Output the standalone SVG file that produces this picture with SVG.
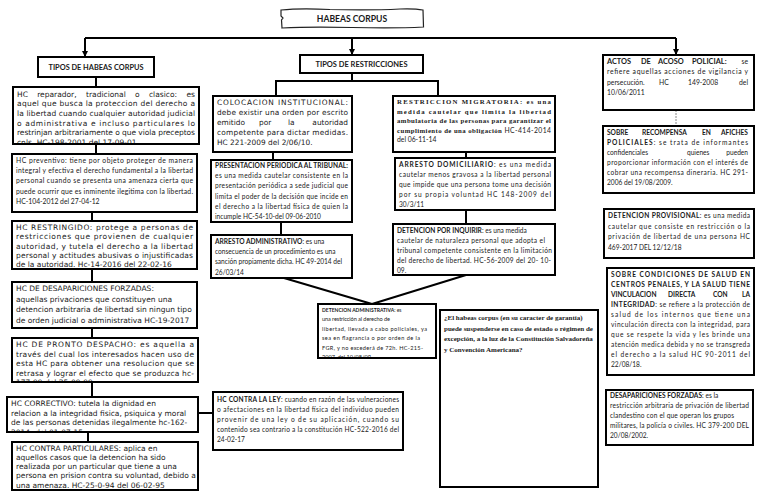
<svg xmlns="http://www.w3.org/2000/svg" width="768" height="497" viewBox="0 0 768 497">
<style>
.box{fill:#fff;stroke:#000;stroke-width:2}
.c{fill:none;stroke:#000;stroke-width:2}
.thin{fill:none;stroke:#888;stroke-width:1;stroke-dasharray:2 1}
text{fill:#1a1a1a}
.f1{font-family:"DejaVu Sans",Verdana,sans-serif;font-size:7.5px}
.f2{font-family:Lato,"Liberation Sans",sans-serif;font-size:6.6px}
.f3{font-family:"Liberation Serif","Times New Roman",serif;font-weight:bold;font-size:6.8px}
.f4{font-family:Lato,"Liberation Sans",sans-serif;font-size:5.6px}
.hd{font-family:Lato,"Liberation Sans",sans-serif;font-weight:bold;font-size:7.6px;text-anchor:middle}
.b{font-weight:bold}
.e{text-anchor:end}
</style>
<defs>
<marker id="ah" viewBox="0 0 10 10" refX="10" refY="5" markerWidth="6" markerHeight="6" markerUnits="userSpaceOnUse" orient="auto"><path d="M0,0 L10,5 L0,10 z" fill="#000"/></marker>
<clipPath id="cp2"><rect x="14" y="88" width="184" height="55"/></clipPath>
<clipPath id="cp5"><rect x="13" y="283" width="183" height="44"/></clipPath>
<clipPath id="cp6"><rect x="13" y="339" width="184" height="42"/></clipPath>
<clipPath id="cp7"><rect x="8" y="398" width="189" height="33"/></clipPath>
<clipPath id="cpda"><rect x="319" y="305" width="116" height="52"/></clipPath>
</defs>

<g id="connectors">
<path class="c" d="M85,38 H676"/>
<path class="c" d="M85,38 V57" marker-end="url(#ah)"/>
<path class="c" d="M352,38 V55" marker-end="url(#ah)"/>
<path class="c" d="M676,38 V55" marker-end="url(#ah)"/>
<path class="c" d="M96,77 V87 M96,144 V154 M92,212 V221 M92,269 V282 M92,328 V338 M92,382 V397 M88,432 V442"/>
<path class="c" d="M198,413 H213"/>
<path class="c" d="M352,73 V81 M276,96 V81 H438 V96"/>
<path class="c" d="M273,152 V160 M281,222 V235"/>
<path class="c" d="M284,278 L372,304 M466,275 L372,304"/>
<path class="c" d="M466,152 V158 M466,210 V224"/>
<path class="thin" d="M676,110 V126"/>
</g>

<g id="habeas-corpus">
<path d="M281,10 Q300,8 330,9.5 Q370,10.5 400,9 Q415,8.5 423,10 L423.5,27 Q395,28.5 352,27.5 Q310,26.5 282,28 L281.5,20 L283,18 L281,16 Z" fill="#fff" stroke="#222" stroke-width="1.2"/>
<text class="hd" x="352" y="22" style="font-size:8.6px">HABEAS CORPUS</text>
</g>

<g id="tipos-habeas">
<rect class="box" x="38" y="57" width="116" height="20"/>
<text class="hd" x="96" y="70" textLength="95" lengthAdjust="spacingAndGlyphs">TIPOS DE HABEAS CORPUS</text>
</g>

<g id="hc-reparador">
<rect class="box" x="13" y="87" width="186" height="57"/>
<g clip-path="url(#cp2)" class="f1">
<text y="96.5"><tspan x="17">HC</tspan><tspan x="37.2">reparador,</tspan><tspan x="86.1">tradicional</tspan><tspan x="135.1">o</tspan><tspan x="149">clasico:</tspan></text>
<text x="195" y="96.5" class="e">es</text>
<text x="17" y="106.2" textLength="178">aquel que busca la proteccion del derecho a</text>
<text x="17" y="115.9" textLength="178">la libertad cuando cualquier autoridad judicial</text>
<text x="17" y="125.6" textLength="178">o administrativa e incluso particulares lo</text>
<text x="17" y="135.3" textLength="178">restrinjan arbitrariamente o que viola preceptos</text>
<text x="17" y="145">cnls. HC-198-2001 del 17-09-01</text>
</g>
</g>

<g id="hc-preventivo">
<rect class="box" x="12" y="154" width="185" height="58"/>
<g class="f2" style="font-size:6.8px">
<text x="16" y="163" textLength="177">HC preventivo: tiene por objeto proteger de manera</text>
<text x="16" y="173.2" textLength="177">integral y efectiva el derecho fundamental a la libertad</text>
<text x="16" y="183.4" textLength="177">personal cuando se presenta una amenaza cierta que</text>
<text x="16" y="193.6" textLength="177">puede ocurrir que es inminente ilegitima con la libertad.</text>
<text x="16" y="203.8">HC-104-2012 del 27-04-12</text>
</g>
</g>

<g id="hc-restringido">
<rect class="box" x="12" y="221" width="185" height="48"/>
<g class="f1">
<text x="16" y="229.5" textLength="177">HC RESTRINGIDO: protege a personas de</text>
<text x="16" y="239" textLength="177">restricciones que provienen de cualquier</text>
<text x="16" y="248.5" textLength="177">autoridad, y tutela el derecho a la libertad</text>
<text x="16" y="258" textLength="177">personal y actitudes abusivas o injustificadas</text>
<text x="16" y="267">de la autoridad. Hc-14-2016 del 22-02-16</text>
</g>
</g>

<g id="hc-desapariciones">
<rect class="box" x="12" y="282" width="185" height="46"/>
<g clip-path="url(#cp5)" class="f1">
<text x="16" y="291">HC DE DESAPARICIONES FORZADAS:</text>
<text x="16" y="301.5">aquellas privaciones que constituyen una</text>
<text x="16" y="312">detencion arbitraria de libertad sin ningun tipo</text>
<text x="16" y="322.5">de orden judicial o administrativa HC-19-2017</text>
<text x="16" y="333">del 13-12-17</text>
</g>
</g>

<g id="hc-pronto-despacho">
<rect class="box" x="12" y="338" width="186" height="44"/>
<g clip-path="url(#cp6)" class="f1">
<text x="16" y="347" textLength="178">HC DE PRONTO DESPACHO: es aquella a</text>
<text x="16" y="356.5" textLength="178">través del cual los interesados hacen uso de</text>
<text x="16" y="366" textLength="178">esta HC para obtener una resolucion que se</text>
<text x="16" y="375.5" textLength="178">retrasa y lograr el efecto que se produzca hc-</text>
<text x="16" y="385">177-99 del 25-09-99</text>
</g>
</g>

<g id="hc-correctivo">
<rect class="box" x="7" y="397" width="191" height="35"/>
<g clip-path="url(#cp7)" class="f1">
<text x="11" y="406">HC CORRECTIVO: tutela la dignidad en</text>
<text x="11" y="415.5">relacion a la integridad fisica, psiquica y moral</text>
<text x="11" y="425">de las personas detenidas ilegalmente hc-162-</text>
<text x="11" y="434.5">2014- del 01-07-15</text>
</g>
</g>

<g id="hc-particulares">
<rect class="box" x="12" y="442" width="186" height="48"/>
<g class="f1">
<text x="16" y="450.5">HC CONTRA PARTICULARES: aplica en</text>
<text x="16" y="459.8">aquellos casos que la detencion ha sido</text>
<text x="16" y="469.1">realizada por un particular que tiene a una</text>
<text x="16" y="478.4">persona en prision contra su voluntad, debido a</text>
<text x="16" y="487.7">una amenaza. HC-25-0-94 del 06-02-95</text>
</g>
</g>

<g id="tipos-restricciones">
<rect class="box" x="300" y="55" width="123" height="18"/>
<text class="hd" x="361.5" y="67" textLength="92" lengthAdjust="spacingAndGlyphs">TIPOS DE RESTRICCIONES</text>
</g>

<g id="colocacion">
<rect class="box" x="213" y="96" width="139" height="56"/>
<g class="f1" style="font-size:7.4px">
<text x="217" y="105" textLength="131">COLOCACION INSTITUCIONAL:</text>
<text x="217" y="115" textLength="131">debe existir una orden por escrito</text>
<text y="125"><tspan x="217">emitido</tspan><tspan x="259">por</tspan><tspan x="288">la</tspan></text>
<text x="348" y="125" class="e">autoridad</text>
<text x="217" y="135" textLength="131">competente para dictar medidas.</text>
<text x="217" y="145">HC 221-2009 del 2/06/10.</text>
</g>
</g>

<g id="presentacion">
<rect class="box" x="211" y="160" width="141" height="62"/>
<g class="f2">
<text x="215" y="168" textLength="133" class="b">PRESENTACION PERIODICA AL TRIBUNAL:</text>
<text x="215" y="178.2" textLength="133">es una medida cautelar consistente en la</text>
<text x="215" y="188.4" textLength="133">presentación periódica a sede judicial que</text>
<text x="215" y="198.6" textLength="133">limita el poder de la decisión que incide en</text>
<text x="215" y="208.8" textLength="133">el derecho a la libertad física de quien la</text>
<text x="215" y="219">incumple HC-54-10-del 09-06-2010</text>
</g>
</g>

<g id="arresto-administrativo">
<rect class="box" x="211" y="235" width="141" height="43"/>
<g class="f2">
<text x="215" y="244"><tspan class="b">ARRESTO ADMINISTRATIVO</tspan>: es una</text>
<text x="215" y="254.2">consecuencia de un procedimiento es una</text>
<text x="215" y="264.4" textLength="127">sanción propiamente dicha. HC 49-2014 del</text>
<text x="215" y="274.6">26/03/14</text>
</g>
</g>

<g id="restriccion-migratoria">
<rect class="box" x="393" y="96" width="162" height="56"/>
<g class="f3">
<text x="397" y="104" textLength="154">RESTRICCION MIGRATORIA: es una</text>
<text x="397" y="113.5" textLength="154">medida cautelar que limita la libertad</text>
<text x="397" y="123" textLength="154">ambulatoria de las personas para garantizar el</text>
<text x="397" y="132.5" textLength="154">cumplimiento de una obligación <tspan style="font-family:Lato,'Liberation Sans',sans-serif;font-weight:normal">HC-414-2014</tspan></text>
<text x="397" y="142" style="font-family:Lato,'Liberation Sans',sans-serif;font-weight:normal">del 06-11-14</text>
</g>
</g>

<g id="arresto-domiciliario">
<rect class="box" x="395" y="158" width="160" height="52"/>
<g class="f2">
<text x="399" y="167" textLength="152"><tspan class="b">ARRESTO DOMICILIARIO</tspan>: es una medida</text>
<text x="399" y="177" textLength="152">cautelar menos gravosa a la libertad personal</text>
<text x="399" y="187" textLength="152">que impide que una persona tome una decisión</text>
<text x="399" y="197" textLength="152">por su propia voluntad HC 148-2009 del</text>
<text x="399" y="207">30/3/11</text>
</g>
</g>

<g id="detencion-inquirir">
<rect class="box" x="393" y="224" width="162" height="51"/>
<g class="f2">
<text x="397" y="233"><tspan class="b">DETENCION POR INQUIRIR</tspan>: es una medida</text>
<text x="397" y="243" textLength="148">cautelar de naturaleza personal que adopta el</text>
<text x="397" y="253" textLength="155">tribunal competente consistente en la limitación</text>
<text x="397" y="263" textLength="154">del derecho de libertad. HC-56-2009 del 20- 10-</text>
<text x="397" y="273">09.</text>
</g>
</g>

<g id="detencion-administrativa">
<rect class="box" x="318" y="304" width="118" height="54"/>
<g clip-path="url(#cpda)" class="f4">
<text x="322" y="311.5" style="font-size:5px"><tspan class="b">DETENCION ADMINISTRATIVA</tspan>: es</text>
<text x="322" y="321" textLength="68">una restricción al derecho de</text>
<text x="322" y="330.5" textLength="105">libertad, llevada a cabo policiales, ya</text>
<text x="322" y="340" textLength="98">sea en flagrancia o por orden de la</text>
<text x="322" y="349.5" textLength="101">FGR, y no excederá de 72h. HC-215-</text>
<text x="322" y="359">2007, del 10/08/09</text>
</g>
</g>

<g id="pregunta">
<rect class="box" x="440" y="310" width="158" height="177"/>
<g class="f3" style="font-size:7px">
<text x="444" y="320">¿El habeas corpus (en su caracter de garantía)</text>
<text x="444" y="330.5">puede suspenderse en caso de estado o régimen de</text>
<text x="444" y="341">excepción, a la luz de la Constitución Salvadoreña</text>
<text x="444" y="351.5">y Convención Americana?</text>
</g>
</g>

<g id="hc-contra-ley">
<rect class="box" x="213" y="392" width="190" height="58"/>
<g class="f2">
<text x="217" y="402" textLength="182"><tspan class="b">HC CONTRA LA LEY</tspan>: cuando en razón de las vulneraciones</text>
<text x="217" y="412" textLength="182">o afectaciones en la libertad física del individuo pueden</text>
<text x="217" y="422" textLength="182">provenir de una ley o de su aplicación, cuando su</text>
<text x="217" y="432" textLength="182">contenido sea contrario a la constitución HC-522-2016 del</text>
<text x="217" y="442">24-02-17</text>
</g>
</g>

<g id="actos-acoso">
<rect class="box" x="603" y="55" width="151" height="55"/>
<g class="f2" style="font-size:6.8px">
<text y="63.5" class="b" style="font-size:7.4px"><tspan x="607">ACTOS</tspan><tspan x="641">DE</tspan><tspan x="658">ACOSO</tspan><tspan x="692">POLICIAL:</tspan></text>
<text x="748" y="63.5" class="e">se</text>
<text x="607" y="74" textLength="141">refiere aquellas acciones de vigilancia y</text>
<text y="84.5"><tspan x="607">persecución.</tspan><tspan x="659">HC</tspan><tspan x="688">149-2008</tspan></text>
<text x="748" y="84.5" class="e">del</text>
<text x="607" y="95">10/06/2011</text>
</g>
</g>

<g id="recompensa">
<rect class="box" x="603" y="126" width="151" height="67"/>
<g class="f2">
<text y="135" class="b"><tspan x="607">SOBRE</tspan><tspan x="642">RECOMPENSA</tspan><tspan x="702">EN</tspan></text>
<text x="748" y="135" class="e b">AFICHES</text>
<text x="607" y="145" textLength="141"><tspan class="b">POLICIALES</tspan>: se trata de informantes</text>
<text y="155"><tspan x="607">confidenciales</tspan><tspan x="687">quienes</tspan></text>
<text x="748" y="155" class="e">pueden</text>
<text x="607" y="165" textLength="141">proporcionar información con el interés de</text>
<text x="607" y="175" textLength="141">cobrar una recompensa dineraria. HC 291-</text>
<text x="607" y="185">2006 del 19/08/2009.</text>
</g>
</g>

<g id="detencion-provisional">
<rect class="box" x="604" y="209" width="150" height="49"/>
<g class="f2">
<text x="608" y="218" textLength="142"><tspan class="b">DETENCION PROVISIONAL</tspan>: es una medida</text>
<text x="608" y="228.5" textLength="142">cautelar que consiste en restricción o la</text>
<text x="608" y="239" textLength="142">privación de libertad de una persona HC</text>
<text x="608" y="249.5">469-2017 DEL 12/12/18</text>
</g>
</g>

<g id="condiciones-salud">
<rect class="box" x="607" y="268" width="147" height="107"/>
<g class="f2">
<text x="611" y="277" textLength="139" class="b">SOBRE CONDICIONES DE SALUD EN</text>
<text x="611" y="287" textLength="139" class="b">CENTROS PENALES, Y LA SALUD TIENE</text>
<text y="297" class="b"><tspan x="611">VINCULACION</tspan><tspan x="668">DIRECTA</tspan><tspan x="713">CON</tspan></text>
<text x="750" y="297" class="e b">LA</text>
<text x="611" y="307" textLength="139"><tspan class="b">INTEGRIDAD</tspan>: se refiere a la protección de</text>
<text x="611" y="317" textLength="139">salud de los internos que tiene una</text>
<text x="611" y="327" textLength="139">vinculación directa con la integridad, para</text>
<text x="611" y="337" textLength="139">que se respete la vida y les brinde una</text>
<text x="611" y="347" textLength="139">atención medica debida y no se transgreda</text>
<text x="611" y="357" textLength="139">el derecho a la salud HC 90-2011 del</text>
<text x="611" y="367">22/08/18.</text>
</g>
</g>

<g id="desapariciones-forzadas">
<rect class="box" x="606" y="390" width="147" height="55"/>
<g class="f2">
<text x="610" y="398"><tspan class="b">DESAPARICIONES FORZADAS</tspan>: es la</text>
<text x="610" y="408" textLength="139">restricción arbitraria de privación de libertad</text>
<text x="610" y="418" textLength="124">clandestino con el que operan los grupos</text>
<text x="610" y="428" textLength="139">militares, la policía o civiles. HC 379-200 DEL</text>
<text x="610" y="438">20/08/2002.</text>
</g>
</g>
</svg>
